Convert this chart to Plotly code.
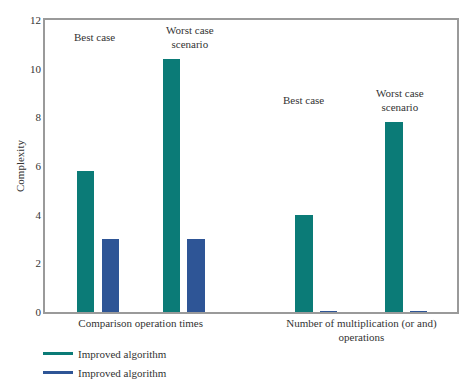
import plotly.graph_objects as go

# Data
group_labels = ["Comparison operation times", "Number of multiplication (or and)<br>operations"]
case_labels = ["Best case", "Worst case<br>scenario", "Best case", "Worst case<br>scenario"]
series1_name = "Improved algorithm"
series2_name = "Improved algorithm"
series1_values = [5.8, 10.4, 4.0, 7.8]
series2_values = [3.0, 3.0, 0.04, 0.04]
y_ticks = [0, 2, 4, 6, 8, 10, 12]
y_title = "Complexity"

# Layout positions (x slots for each case pair)
pair_pos = [0, 1, 2.55, 3.6]
group_pos = [(pair_pos[0] + pair_pos[1]) / 2, (pair_pos[2] + pair_pos[3]) / 2]
case_label_x = [pair_pos[0] - 0.035, pair_pos[1] + 0.07, pair_pos[2] - 0.15, pair_pos[3] - 0.08]
case_label_y = [11.3, 11.3, 8.7, 8.7]

teal = "#0b7b77"
blue = "#2e5596"
font_family = "Liberation Serif, DejaVu Serif, serif"
text_color = "#333333"

W, H = 466, 384
L, R, T, B = 37, 17, 12, 80

fig = go.Figure()
fig.add_trace(go.Bar(x=pair_pos, y=series1_values, width=0.2, offset=-0.245,
                     marker=dict(color=teal, line=dict(width=0)), showlegend=False))
fig.add_trace(go.Bar(x=pair_pos, y=series2_values, width=0.2, offset=0.045,
                     marker=dict(color=blue, line=dict(width=0)), showlegend=False))
# Legend entries drawn as short lines
fig.add_trace(go.Scatter(x=[None], y=[None], mode="lines", name=series1_name,
                         line=dict(color=teal, width=3)))
fig.add_trace(go.Scatter(x=[None], y=[None], mode="lines", name=series2_name,
                         line=dict(color=blue, width=3)))

for x, y, t in zip(case_label_x, case_label_y, case_labels):
    fig.add_annotation(x=x, y=y, text=t, showarrow=False,
                       font=dict(family=font_family, size=11, color=text_color))

# Y-axis title
fig.add_annotation(x=(12 - L) / (W - L - R), y=0.5, xref="paper", yref="paper",
                   xanchor="center", yanchor="middle",
                   text=y_title, textangle=-90, showarrow=False,
                   font=dict(family=font_family, size=11, color=text_color))

fig.update_layout(
    width=W, height=H,
    margin=dict(l=L, r=R, t=T, b=B, autoexpand=False),
    plot_bgcolor="white", paper_bgcolor="white",
    font=dict(family=font_family, size=11, color=text_color),
    xaxis=dict(range=[-0.616, 4.19], tickvals=group_pos, ticktext=group_labels,
               showgrid=False, zeroline=False, showline=True, linecolor="#9a9a9a",
               linewidth=1.5, mirror=True, ticks="", tickfont=dict(size=11)),
    yaxis=dict(range=[0, 12], tickvals=y_ticks, showgrid=False, zeroline=False,
               showline=True, linecolor="#9a9a9a", linewidth=1.5, mirror=True,
               ticks="", tickfont=dict(size=11)),
    legend=dict(x=L / W - 0.015, y=1 - 355 / H, xanchor="left", yanchor="middle",
                xref="container", yref="container",
                font=dict(size=11), tracegroupgap=0, itemwidth=30,
                bgcolor="rgba(0,0,0,0)"),
    bargap=0,
)

fig.write_html("out.html")
